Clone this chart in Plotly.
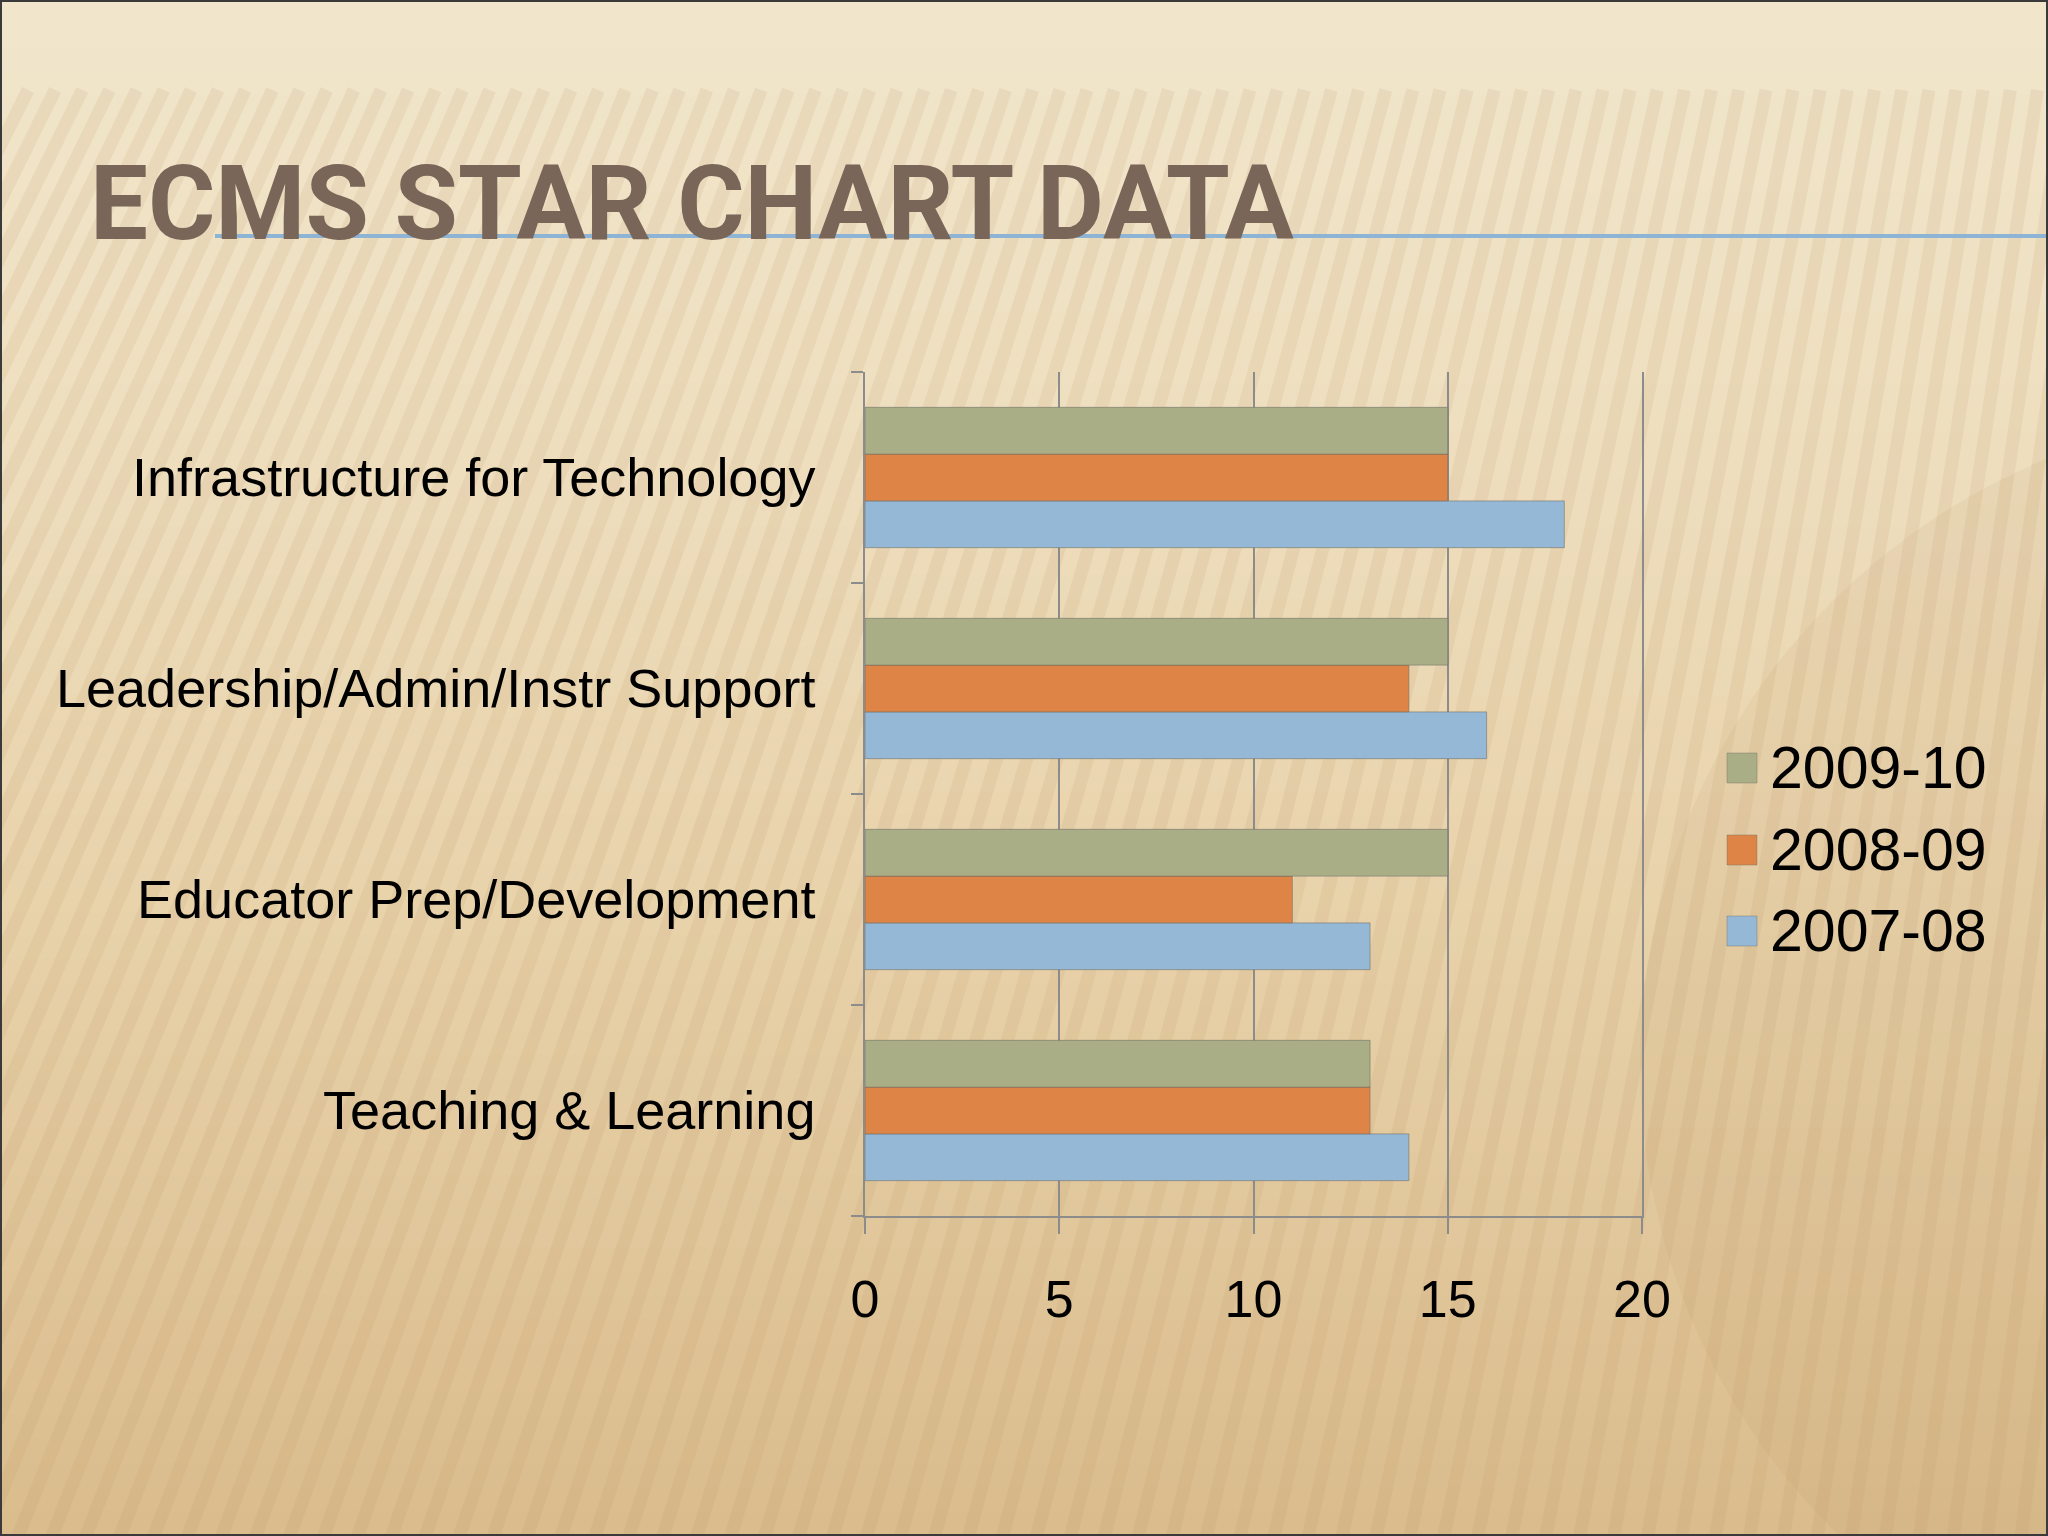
import plotly.graph_objects as go

# ---- data ----
categories = ["Teaching & Learning", "Educator Prep/Development",
              "Leadership/Admin/Instr Support", "Infrastructure for Technology"]
series_names = ["2007-08", "2008-09", "2009-10"]
vals_2007_08 = [14, 13, 16, 18]
vals_2008_09 = [13, 11, 14, 15]
vals_2009_10 = [13, 15, 15, 15]
series_values = [vals_2007_08, vals_2008_09, vals_2009_10]
series_colors = ["#95B8D6", "#DE8447", "#A9AE87"]
x_ticks = [0, 5, 10, 15, 20]
title_text = "ECMS STAR CHART DATA"

W, H = 2048, 1536
L, R, T, B = 865, 1642, 372, 1216  # plot area in pixels
PW, PH = R - L, B - T


def px(x):
    return (x - L) / PW


def py(y):
    return (B - y) / PH


fig = go.Figure()
for name, vals, col in zip(series_names, series_values, series_colors):
    fig.add_trace(go.Bar(
        y=categories, x=vals, name=name, orientation="h",
        marker=dict(color=col, line=dict(color="rgba(110,110,100,0.55)", width=1)),
        showlegend=False,
    ))

shapes = []
# background vertical gradient
stops = [(0.0, (241, 230, 204)), (0.07, (240, 228, 200)), (0.3, (238, 222, 190)),
         (0.6, (232, 210, 170)), (1.0, (218, 188, 140))]


def interp(t):
    for (t0, c0), (t1, c1) in zip(stops[:-1], stops[1:]):
        if t0 <= t <= t1:
            f = (t - t0) / (t1 - t0) if t1 > t0 else 0
            return tuple(int(round(a + (b - a) * f)) for a, b in zip(c0, c1))
    return stops[-1][1]


nb = 64
for i in range(nb):
    y0 = i * H / nb
    y1 = (i + 1) * H / nb
    c = interp((i + 0.5) / nb)
    shapes.append(dict(type="rect", xref="paper", yref="paper", x0=px(-10), x1=px(W + 10),
                       y0=py(y1 + 1), y1=py(y0 - 1),
                       line=dict(width=0), fillcolor="rgb(%d,%d,%d)" % c, layer="below"))
# large soft darker disc on the right
shapes.append(dict(type="circle", xref="paper", yref="paper",
                   x0=px(1640), x1=px(2950), y0=py(1720), y1=py(410),
                   line=dict(width=0), fillcolor="rgba(190,150,95,0.10)", layer="below"))
# diagonal stripes
xb = -700
while xb < W + 40:
    s = 0.50 - 0.38 * max(0.0, min(1.0, (xb + 700) / (W + 700)))
    top_y = 90
    shapes.append(dict(type="line", xref="paper", yref="paper",
                       x0=px(xb), y0=py(H + 10),
                       x1=px(xb + s * (H + 10 - top_y)), y1=py(top_y),
                       line=dict(color="rgba(185,150,100,0.13)", width=13), layer="below"))
    xb += 34
# title underline
shapes.append(dict(type="line", xref="paper", yref="paper",
                   x0=px(215), x1=px(W), y0=py(236), y1=py(236),
                   line=dict(color="#8DB3D5", width=4), layer="below"))
# frame
shapes.append(dict(type="rect", xref="paper", yref="paper", x0=px(1), x1=px(W - 1),
                   y0=py(H - 1), y1=py(1), line=dict(color="#3a3a3a", width=2)))

annotations = [dict(text="<b>" + title_text + "</b>", xref="paper", yref="paper",
                    x=px(88), y=py(204), xanchor="left", yanchor="middle",
                    showarrow=False,
                    font=dict(family="Roboto, Liberation Sans, Arial, sans-serif",
                              size=103, color="#7A6559"))]

# legend (top to bottom: latest series first)
leg_y = [768, 850, 931]
for i, (name, col) in enumerate(zip(series_names[::-1], series_colors[::-1])):
    yc = leg_y[i]
    shapes.append(dict(type="rect", xref="paper", yref="paper",
                       x0=px(1727), x1=px(1757), y0=py(yc + 15), y1=py(yc - 15),
                       fillcolor=col, line=dict(color="rgba(110,110,100,0.4)", width=1)))
    annotations.append(dict(text=name, xref="paper", yref="paper",
                            x=px(1768), y=py(yc), xanchor="left", yanchor="middle",
                            showarrow=False,
                            font=dict(family="Liberation Sans, Arial, sans-serif", size=59, color="#000")))

fig.update_layout(
    width=W, height=H,
    margin=dict(l=L, r=W - R, t=T, b=H - B, pad=0),
    paper_bgcolor="#EEDFC2", plot_bgcolor="rgba(0,0,0,0)",
    barmode="group", bargap=0.335, bargroupgap=0,
    showlegend=False,
    shapes=shapes, annotations=annotations,
    xaxis=dict(range=[0, 20], tickvals=x_ticks, showgrid=True, gridcolor="#8C8C8C", gridwidth=1.5,
               zeroline=False, showline=True, linecolor="#8C8C8C", linewidth=1.5,
               ticks="outside", ticklen=16, tickcolor="#8C8C8C", tickwidth=1.5,
               ticklabelstandoff=21,
               tickfont=dict(family="Liberation Sans, Arial, sans-serif", size=52, color="#000")),
    yaxis=dict(categoryorder="array", categoryarray=categories, showgrid=False,
               showline=True, mirror=True, linecolor="#8C8C8C", linewidth=1.5,
               ticks="outside", tickson="boundaries", ticklen=12, tickcolor="#8C8C8C", tickwidth=1.5,
               ticklabelstandoff=37,
               tickfont=dict(family="Liberation Sans, Arial, sans-serif", size=54, color="#000")),
)
fig.write_html("out.html", config={"displayModeBar": False},
               post_script="document.body.style.margin='0';document.body.style.overflow='hidden';")
